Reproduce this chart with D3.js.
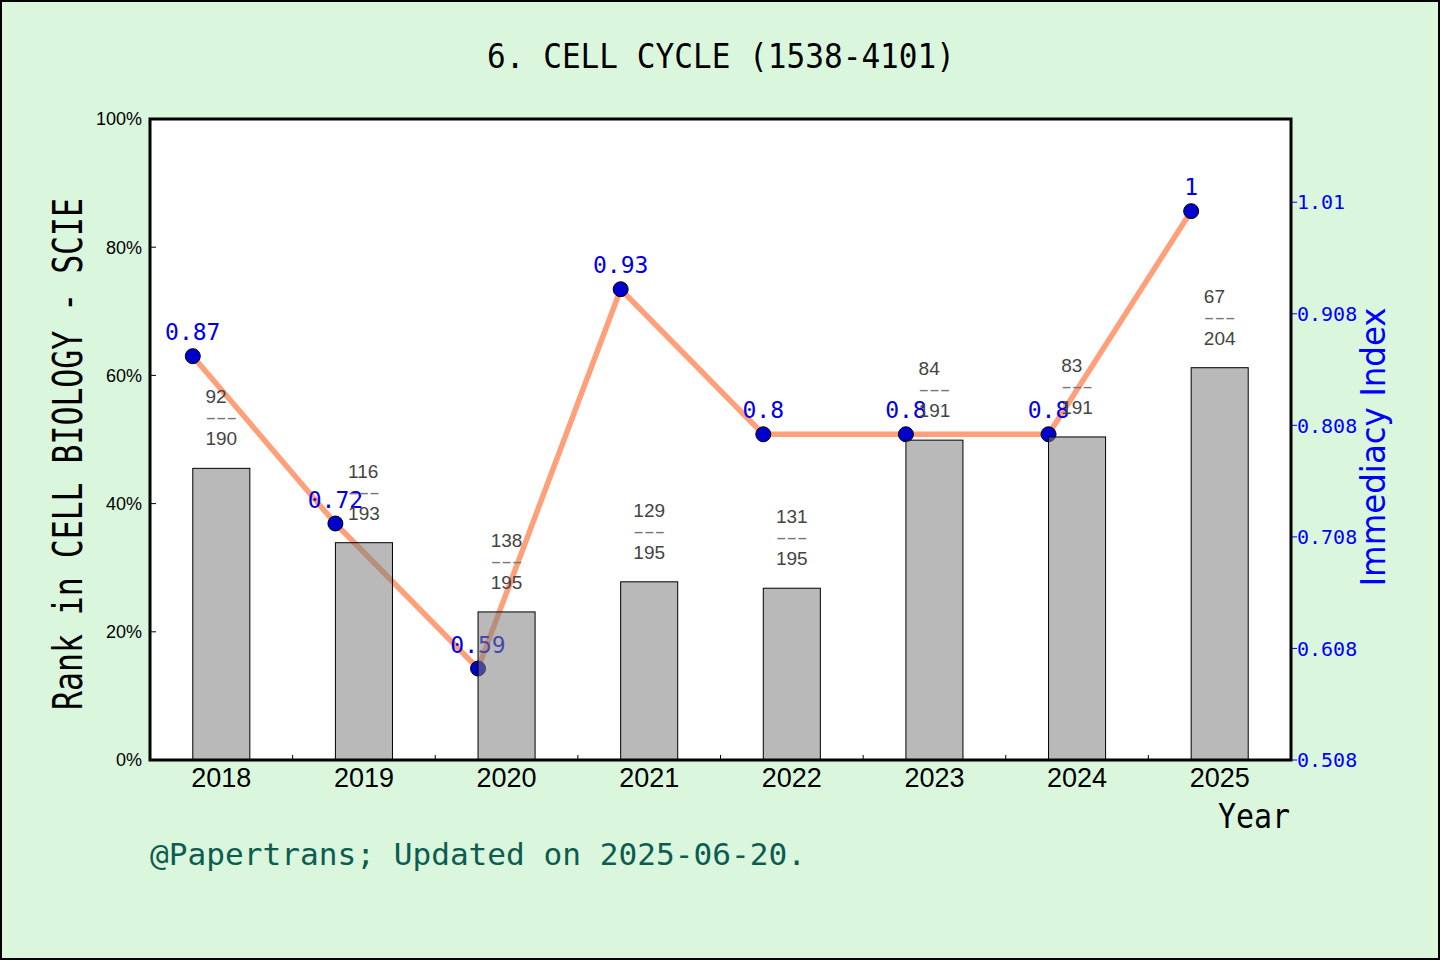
<!DOCTYPE html>
<html>
<head>
<meta charset="utf-8">
<script src="https://cdn.jsdelivr.net/npm/d3@7"></script>
<style>
  body { margin: 0; padding: 0; background: #daf7de; }
</style>
</head>
<body>
<script>
const width = 1440;
const height = 960;

// data
const years = ['2018', '2019', '2020', '2021', '2022', '2023', '2024', '2025'];
const rankPct = [0.455, 0.339, 0.231, 0.278, 0.268, 0.499, 0.504, 0.612];
const ranks = [92, 116, 138, 129, 131, 84, 83, 67];
const totals = [190, 193, 195, 195, 195, 191, 191, 204];
const immediacy = [0.87, 0.72, 0.59, 0.93, 0.8, 0.8, 0.8, 1];
const leftTicks = [0, 0.2, 0.4, 0.6, 0.8, 1];
const rightTicks = [0.508, 0.608, 0.708, 0.808, 0.908, 1.008];

const mono = "'DejaVu Sans Mono', monospace";
const sans = "'Liberation Sans', Arial, sans-serif";

const plot = { left: 150, right: 1291, top: 119, bottom: 760 };

const svg = d3
  .select('body')
  .append('svg')
  .attr('width', width)
  .attr('height', height)
  .attr('viewBox', `0 0 ${width} ${height}`);

// background + outer border
svg
  .append('rect')
  .attr('x', 1)
  .attr('y', 1)
  .attr('width', width - 2)
  .attr('height', height - 2)
  .attr('fill', '#daf7de')
  .attr('stroke', '#000')
  .attr('stroke-width', 2);

// plot area
svg
  .append('rect')
  .attr('x', plot.left)
  .attr('y', plot.top)
  .attr('width', plot.right - plot.left)
  .attr('height', plot.bottom - plot.top)
  .attr('fill', '#fff');

// scales
const x = d3
  .scaleBand()
  .domain(years)
  .range([plot.left, plot.right])
  .padding(0);
const bw = x.bandwidth();

const yLeft = d3.scaleLinear().domain([0, 1]).range([plot.bottom, plot.top]);
const yRight = d3
  .scaleLinear()
  .domain([0.508, 1.0826])
  .range([plot.bottom, plot.top]);

// Title
svg
  .append('text')
  .attr('x', 721)
  .attr('y', 68)
  .attr('text-anchor', 'middle')
  .attr('font-family', mono)
  .attr('font-size', 33)
  .attr('textLength', 468)
  .attr('lengthAdjust', 'spacingAndGlyphs')
  .attr('fill', '#000')
  .text('6. CELL CYCLE (1538-4101)');

// Immediacy line (drawn under the bars)
const pts = years.map((yr, i) => ({ x: x(yr) + bw * 0.3, y: yRight(immediacy[i]), v: immediacy[i] }));

svg
  .append('path')
  .datum(pts)
  .attr('d', d3.line().x((d) => d.x).y((d) => d.y))
  .attr('fill', 'none')
  .attr('stroke', '#ffa07a')
  .attr('stroke-width', 5.5)
  .attr('stroke-linejoin', 'round');

svg
  .selectAll('.pt')
  .data(pts)
  .enter()
  .append('circle')
  .attr('class', 'pt')
  .attr('cx', (d) => d.x)
  .attr('cy', (d) => d.y)
  .attr('r', 7.5)
  .attr('fill', '#0000cd')
  .attr('stroke', '#000')
  .attr('stroke-width', 1);

svg
  .selectAll('.ptlabel')
  .data(pts)
  .enter()
  .append('text')
  .attr('class', 'ptlabel')
  .attr('x', (d) => d.x)
  .attr('y', (d) => d.y - 16)
  .attr('text-anchor', 'middle')
  .attr('font-family', mono)
  .attr('font-size', 23)
  .attr('fill', '#0000e6')
  .text((d) => String(d.v));

// rank bars (semi transparent, on top of the line)
svg
  .selectAll('.bar')
  .data(years)
  .enter()
  .append('rect')
  .attr('class', 'bar')
  .attr('x', (d) => x(d) + bw * 0.3)
  .attr('y', (d, i) => yLeft(rankPct[i]))
  .attr('width', bw * 0.4)
  .attr('height', (d, i) => plot.bottom - yLeft(rankPct[i]))
  .attr('fill', 'rgba(128,128,128,0.55)')
  .attr('stroke', '#000')
  .attr('stroke-width', 1);

// rank labels: rank / --- / total, left aligned in a centred block
years.forEach((yr, i) => {
  const cx = x(yr) + bw / 2;
  const bottom = yLeft(rankPct[i]) - 23;
  const g = svg.append('g');
  const num = g
    .append('text')
    .attr('y', bottom - 42)
    .attr('font-family', sans)
    .attr('font-size', 19)
    .attr('fill', '#444')
    .text(String(ranks[i]));
  const den = g
    .append('text')
    .attr('y', bottom)
    .attr('font-family', sans)
    .attr('font-size', 19)
    .attr('fill', '#444')
    .text(String(totals[i]));
  const w = Math.max(
    num.node().getComputedTextLength(),
    den.node().getComputedTextLength()
  );
  const dash = g
    .append('text')
    .attr('y', bottom - 21)
    .attr('font-family', sans)
    .attr('font-size', 19)
    .attr('fill', '#777')
    .attr('textLength', w)
    .attr('lengthAdjust', 'spacingAndGlyphs')
    .text('---');
  [num, den, dash].forEach((t) => t.attr('x', cx - w / 2));
});

// frame
svg
  .append('rect')
  .attr('x', plot.left)
  .attr('y', plot.top)
  .attr('width', plot.right - plot.left)
  .attr('height', plot.bottom - plot.top)
  .attr('fill', 'none')
  .attr('stroke', '#000')
  .attr('stroke-width', 3);

// left axis (ticks inside)
const leftAxis = svg.append('g');
leftAxis
  .selectAll('line')
  .data(leftTicks.slice(1, -1))
  .enter()
  .append('line')
  .attr('x1', plot.left)
  .attr('x2', plot.left + 6)
  .attr('y1', (d) => yLeft(d))
  .attr('y2', (d) => yLeft(d))
  .attr('stroke', '#000');
leftAxis
  .selectAll('text')
  .data(leftTicks)
  .enter()
  .append('text')
  .attr('x', 142)
  .attr('y', (d) => yLeft(d))
  .attr('dy', '0.35em')
  .attr('text-anchor', 'end')
  .attr('font-family', sans)
  .attr('font-size', 18)
  .attr('fill', '#000')
  .text((d) => d3.format('.0%')(d));

// right axis (ticks outside, blue)
const fmtR = d3.format('.3r');
const rightAxis = svg.append('g');
rightAxis
  .selectAll('line')
  .data(rightTicks)
  .enter()
  .append('line')
  .attr('x1', plot.right + 1)
  .attr('x2', plot.right + 6)
  .attr('y1', (d) => yRight(d))
  .attr('y2', (d) => yRight(d))
  .attr('stroke', '#0000ff');
rightAxis
  .selectAll('text')
  .data(rightTicks)
  .enter()
  .append('text')
  .attr('x', 1297)
  .attr('y', (d) => yRight(d))
  .attr('dy', '0.36em')
  .attr('font-family', mono)
  .attr('font-size', 20)
  .attr('fill', '#0000ff')
  .text((d) => fmtR(d));

// bottom axis
const bottomAxis = svg.append('g');
bottomAxis
  .selectAll('line')
  .data(years.slice(1))
  .enter()
  .append('line')
  .attr('x1', (d) => x(d))
  .attr('x2', (d) => x(d))
  .attr('y1', plot.bottom)
  .attr('y2', plot.bottom - 5)
  .attr('stroke', '#000');
bottomAxis
  .selectAll('text')
  .data(years)
  .enter()
  .append('text')
  .attr('x', (d) => x(d) + bw / 2)
  .attr('y', 787)
  .attr('text-anchor', 'middle')
  .attr('font-family', sans)
  .attr('font-size', 27)
  .attr('fill', '#000')
  .text((d) => d);

// axis titles
svg
  .append('text')
  .attr('transform', 'translate(82, 454) rotate(-90)')
  .attr('text-anchor', 'middle')
  .attr('font-family', mono)
  .attr('font-size', 40)
  .attr('textLength', 512)
  .attr('lengthAdjust', 'spacingAndGlyphs')
  .attr('fill', '#000')
  .text('Rank in CELL BIOLOGY - SCIE');

svg
  .append('text')
  .attr('transform', 'translate(1385, 447) rotate(-90)')
  .attr('text-anchor', 'middle')
  .attr('font-family', "'DejaVu Sans', sans-serif")
  .attr('font-size', 34)
  .attr('textLength', 279)
  .attr('lengthAdjust', 'spacingAndGlyphs')
  .attr('fill', '#0000ff')
  .text('Immediacy Index');

svg
  .append('text')
  .attr('x', 1290)
  .attr('y', 828)
  .attr('text-anchor', 'end')
  .attr('font-family', mono)
  .attr('font-size', 34)
  .attr('textLength', 72)
  .attr('lengthAdjust', 'spacingAndGlyphs')
  .attr('fill', '#000')
  .text('Year');

// footer
svg
  .append('text')
  .attr('x', 150)
  .attr('y', 865)
  .attr('font-family', mono)
  .attr('font-size', 31)
  .attr('textLength', 656)
  .attr('lengthAdjust', 'spacingAndGlyphs')
  .attr('fill', '#0d5c50')
  .text('@Papertrans; Updated on 2025-06-20.');
</script>
</body>
</html>
